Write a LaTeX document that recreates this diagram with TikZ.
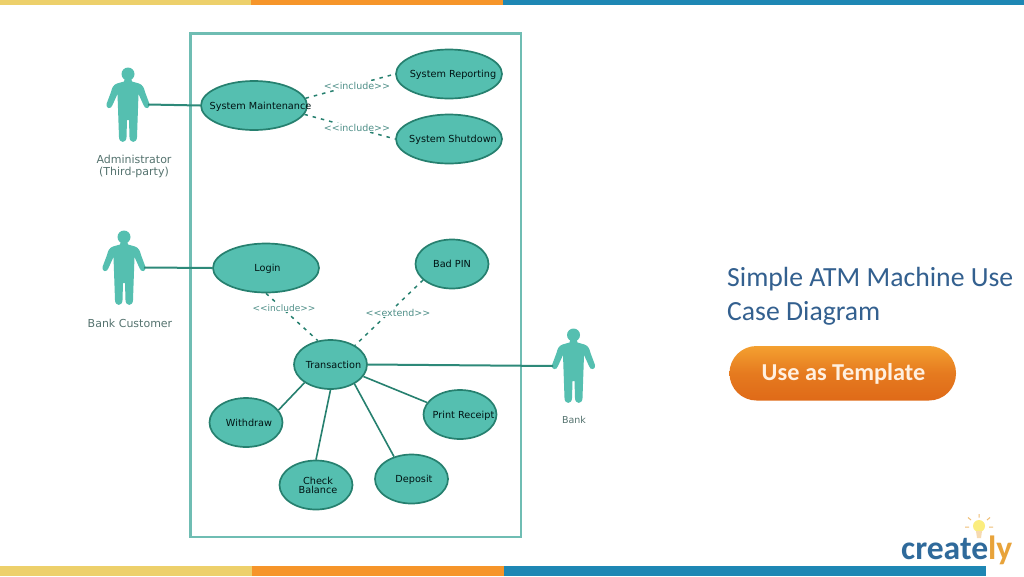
\documentclass[tikz,border=0pt]{standalone}
\usepackage{fontspec}
\setmainfont{DejaVu Sans}[Ligatures=NoCommon]
\newfontfamily\titlefont{Carlito}
\usetikzlibrary{shapes.geometric}
\definecolor{tealfill}{HTML}{55BFB0}
\definecolor{tealedge}{HTML}{26806F}
\definecolor{tealframe}{HTML}{6FBDB3}
\definecolor{tealtext}{HTML}{4F8F88}
\definecolor{labelgrey}{HTML}{55736F}
\definecolor{titleblue}{HTML}{33608F}
\definecolor{btntop}{HTML}{F4A030}
\definecolor{btnbot}{HTML}{DF6A18}
\definecolor{barY}{HTML}{EDD06B}
\definecolor{barO}{HTML}{F6952A}
\definecolor{barB}{HTML}{1E87B4}
\definecolor{logoB}{HTML}{2F6A9B}
\definecolor{logoO}{HTML}{E8A33A}
\newcommand\ucl[2]{\makebox[0pt]{\hspace*{#1}\raisebox{-3.7pt}[0pt][0pt]{#2}}}
\tikzset{
  x=1pt,y=-1pt,
  usecase/.style={ellipse,draw=tealedge,line width=1.7pt,fill=tealfill,inner sep=0pt,
    minimum width=73pt,minimum height=49pt,text=black!85!teal,
    font=\fontsize{9.7}{9}\selectfont,align=center},
  wide/.style={minimum width=106pt},
  assoc/.style={draw=tealedge!85!tealfill,line width=2pt},
  spoke/.style={draw=tealedge,line width=1.6pt},
  dep/.style={draw=tealedge,line width=1.5pt,dash pattern=on 3.5pt off 5pt},
  deplabel/.style={text=tealtext,font=\fontsize{9.5}{9.5}\selectfont,fill=white,inner sep=1pt},
  actorlabel/.style={text=labelgrey,font=\fontsize{11}{12}\selectfont,align=center},
  actorbody/.style={fill=tealfill,draw=none},
}
% actor pic: origin at head centre, height 68px below it
\tikzset{actor/.pic={
  \fill[actorbody] (0,0) ellipse (6.5 and 6.5);
  \fill[actorbody] (-3,4) -- (3,4) -- (4,7.5) -- (11,9.5) .. controls (15,11) and (16,14) .. (17,18)
     -- (21.5,30) .. controls (22.5,35) and (16.5,35.5) .. (15.5,31) -- (10.5,20) -- (9.8,40) -- (9,63)
     .. controls (9,69.5) and (1.5,69.5) .. (1.5,63) -- (1,46) -- (-1,46) -- (-1.5,63)
     .. controls (-1.5,69.5) and (-9,69.5) .. (-9,63) -- (-9.8,40) -- (-10.5,20) -- (-15.5,31)
     .. controls (-16.5,35.5) and (-22.5,35) .. (-21.5,30)
     -- (-17,18) .. controls (-16,14) and (-15,11) .. (-11,9.5) -- (-4,7.5) -- cycle;
}}
\begin{document}
\begin{tikzpicture}
\useasboundingbox (0,0) rectangle (1024,576);
\fill[white] (0,0) rectangle (1024,576);
% bars
\fill[barY] (0,0) rectangle (251,5);
\fill[barO] (251,0) rectangle (503,5);
\fill[barB] (503,0) rectangle (1024,5);
\fill[barY] (0,566) rectangle (252,576);
\fill[barO] (252,566) rectangle (504,576);
\fill[barB] (504,566) rectangle (986,576);
% frame
\draw[tealframe,line width=2.5pt] (190.5,33.5) rectangle (521,537);
\coordinate (aA) at (148,104.5);
\coordinate (aC) at (144,267.5);
\coordinate (aB) at (553,366);
% use cases
\node[usecase,wide] (maint) at (254,105.5) {\ucl{13pt}{System Maintenance}};
\node[usecase,wide] (report) at (449,74) {\ucl{8pt}{System Reporting}};
\node[usecase,wide] (shut) at (449,139) {\ucl{8pt}{System Shutdown}};
\node[usecase,wide] (login) at (266,268) {\ucl{3pt}{Login}};
\node[usecase] (bad) at (452,264) {\ucl{0pt}{Bad PIN}};
\node[usecase] (trans) at (330.5,364.5) {\ucl{6pt}{Transaction}};
\node[usecase] (wd) at (246,422.5) {\ucl{6pt}{Withdraw}};
\node[usecase] (check) at (316,485) {\ucl{4pt}{Check}\\\ucl{4pt}{Balance}};
\node[usecase] (dep) at (411.5,479) {\ucl{5pt}{Deposit}};
\node[usecase] (print) at (460,414.5) {\ucl{7pt}{Print Receipt}};
% actors
\pic at (128,74) {actor};
\pic at (124,237) {actor};
\pic at (573.5,335) {actor};
\node[actorlabel] (lA) at (134,166) {Administrator\\(Third-party)};
\node[actorlabel] (lC) at (130,323.5) {Bank Customer};
\node[actorlabel,font=\fontsize{9.5}{9.5}\selectfont] (lB) at (574,420) {Bank};
% connectors
\draw[assoc] (aA) -- (maint.west);
\draw[assoc] (aC) -- (login.west);
\draw[assoc] (trans.east) -- (aB);
\draw[spoke] (trans.215) -- (wd.21);
\draw[spoke] (trans.south) -- (check.north);
\draw[spoke] (trans.-39) -- (dep.128);
\draw[spoke] (trans.-20) -- (print.160);
\draw[dep] (maint.8) -- (report.180);
\draw[dep] (maint.-10) -- (shut.180);
\draw[dep] (login.south) -- (trans.118);
\draw[dep] (bad.209) -- (trans.38);
\node[deplabel] (i1) at (357,85.5) {<{}<include>{}>};
\node[deplabel] (i2) at (357,127.5) {<{}<include>{}>};
\node[deplabel,font=\fontsize{9}{9}\selectfont] (i3) at (284,308) {<{}<include>{}>};
\node[deplabel] (e1) at (398,312.5) {<{}<extend>{}>};
% title
\node[anchor=west,text=titleblue,font=\titlefont\fontsize{27.7}{34}\selectfont,align=left,inner sep=0pt] (title) at (727,296.5) {Simple ATM Machine Use\\Case Diagram};
% button
\shade[top color=btntop,bottom color=btnbot,middle color=btnbot!70!btntop,rounded corners=27pt] (729.5,346) rectangle (956,400.5);
\node[text=white!88!orange,font=\titlefont\bfseries\fontsize{24.3}{24.3}\selectfont,inner sep=0pt] (btn) at (843.5,373.5) {Use as Template};
% logo
\node[anchor=base west,text=logoB,font=\titlefont\bfseries\fontsize{33.6}{33.6}\selectfont,inner sep=0pt] (logo) at (901,559) {create\textcolor{logoO}{ly}};
\fill[logoO!35!yellow!55!white] (979,526) circle (6);
\fill[logoO!40!white] (976,531) -- (982,531) -- (981,538) -- (977,538) -- cycle;
\draw[logoO!70!white,line width=1pt] (979,517.5) -- (979,514) (971,520) -- (968,517.5) (987,520) -- (990,517.5) (969,527) -- (965,527) (989,527) -- (993,527);
\end{tikzpicture}
\end{document}
